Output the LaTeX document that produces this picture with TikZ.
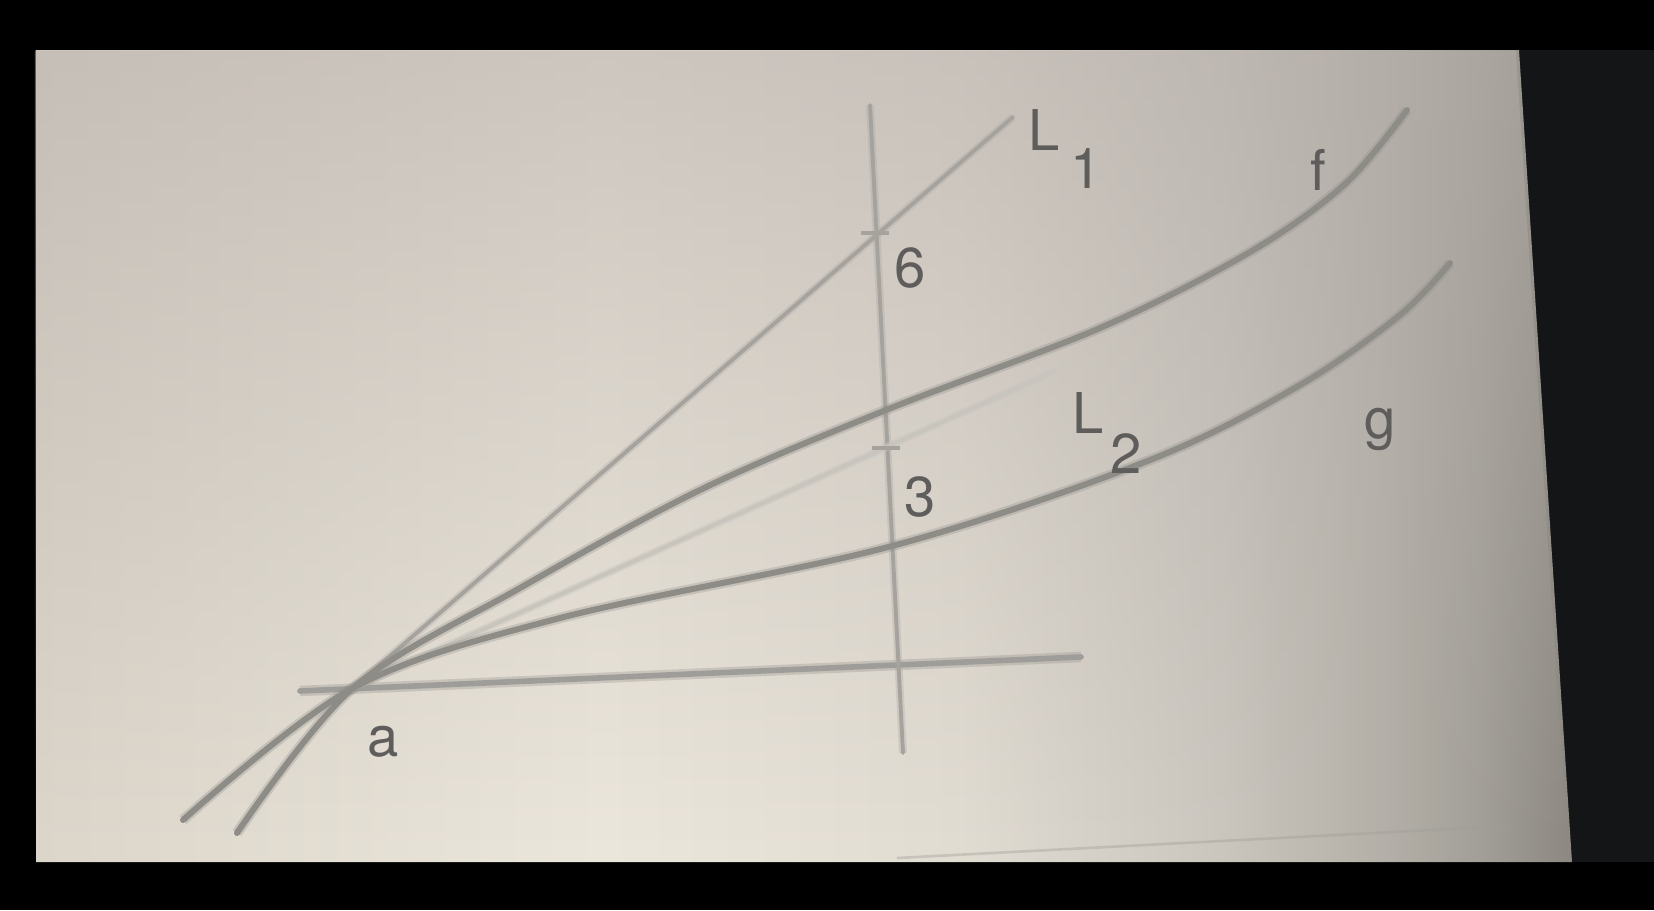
\documentclass[tikz,border=0pt]{standalone}
\usepackage{fontspec}
\setmainfont{TeX Gyre Heros}
\usetikzlibrary{fadings}
\definecolor{pA}{HTML}{DCD6CB}
\definecolor{pB}{HTML}{ECE7DC}
\definecolor{pC}{HTML}{E2DDD3}
\definecolor{pD}{HTML}{CBC7BF}
\definecolor{pE}{HTML}{B6B2AA}
\definecolor{pF}{HTML}{A29F98}
\definecolor{pG}{HTML}{8C8881}
\definecolor{topgrey}{HTML}{B4ACA8}
\definecolor{darkside}{HTML}{131517}
\definecolor{curvecol}{HTML}{8E8C87}
\definecolor{linecol}{HTML}{A6A39E}
\definecolor{faintcol}{HTML}{C8C5BE}
\definecolor{textcol}{HTML}{5E5D5B}
\pgfdeclarehorizontalshading{papershade}{100bp}{color(0bp)=(pA); color(25bp)=(pA); color(43.5bp)=(pB); color(55bp)=(pC); color(63.5bp)=(pD); color(68.5bp)=(pE); color(72bp)=(pF); color(75bp)=(pG); color(100bp)=(pG)}
\tikzfading[name=topfade, top color=transparent!45, middle color=transparent!100, bottom color=transparent!100]
\begin{document}
\begin{tikzpicture}[x=0.02cm, y=-0.02cm,
  curve/.style={draw=curvecol, line width=3.4pt, line cap=round,
    preaction={draw=curvecol, line width=6pt, opacity=0.3}},
  thinline/.style={draw=linecol, line width=2.2pt, line cap=round,
    preaction={draw=linecol, line width=4.5pt, opacity=0.3}},
  baseline/.style={draw=curvecol!85!white, line width=3.2pt, line cap=round,
    preaction={draw=curvecol, line width=6pt, opacity=0.3}},
  faintline/.style={draw=faintcol, line width=2.4pt, line cap=round,
    preaction={draw=faintcol, line width=4.5pt, opacity=0.4}},
  tick/.style={draw=linecol, line width=2.2pt},
  lab/.style={text=textcol, font=\fontsize{32}{36}\selectfont, inner sep=0pt}]
\useasboundingbox (0,0) rectangle (1654,910);
\fill[black] (0,0) rectangle (1654,910);
\fill[darkside] (1500,50) rectangle (1654,862);
% paper
\shade[shading=papershade] (36,50) -- (1519,50) -- (1572,862) -- (36,862) -- cycle;
\fill[topgrey, path fading=topfade] (36,50) -- (1519,50) -- (1572,862) -- (36,862) -- cycle;
\draw[faintcol!80!black, line width=1.5pt, opacity=0.4] (897,858) -- (1508,826);

% key points
\coordinate (a) at (353,688);
\coordinate (hl) at (300,691);
\coordinate (hr) at (1081,657);
\coordinate (vt) at (870,105);
\coordinate (vb) at (903,753);
\coordinate (l1end) at (1013,117);
\coordinate (l2end) at (1055,371);
\coordinate (t6) at (877,233);
\coordinate (t3) at (888,448);

% horizontal and vertical lines
\draw[baseline] (hl) -- (hr);
\draw[thinline] (vt) -- (vb);
% tangent lines
\draw[thinline] (a) -- (l1end);
\draw[faintline] (a) -- (l2end);
% ticks
\draw[tick] ([xshift=-9]t6) -- ([xshift=7]t6);
\draw[tick] ([xshift=-9]t3) -- ([xshift=7]t3);

% curves f and g
\draw[curve] plot[smooth, tension=0.55] coordinates {(237,833) (353,688) (520,588) (700,490) (886,410) (1100,328) (1250,252) (1345,184) (1407,110)};
\draw[curve] plot[smooth, tension=0.55] coordinates {(183,820) (353,688) (560,618) (892,546) (1150,460) (1300,385) (1400,315) (1450,263)};

% labels
\node[lab, anchor=base] (la) at (383,756) {a};
\node[lab, anchor=base] (l6) at (910,287) {6};
\node[lab, anchor=base] (l3) at (920,516) {3};
\node[lab, anchor=base west] (lL1) at (1028,150) {L\hspace{6pt}\raisebox{-22pt}{1}};
\node[lab, anchor=base west] (lL2) at (1072,433) {L\hspace{4pt}\raisebox{-23pt}{2}};
\node[lab, anchor=base] (lf) at (1318,190) {f};
\node[lab, anchor=base] (lg) at (1380,438) {g};
\end{tikzpicture}
\end{document}
